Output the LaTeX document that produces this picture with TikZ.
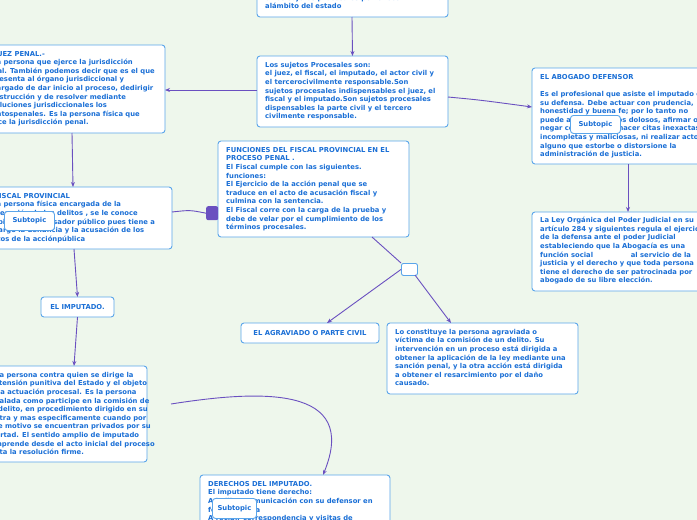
\documentclass[tikz,border=0pt]{standalone}
\usepackage{fontspec}
\setmainfont{DejaVu Sans}
\usetikzlibrary{arrows.meta}
\definecolor{bg}{HTML}{EEF7EC}
\definecolor{bc}{HTML}{5AA5EA}
\definecolor{tc}{HTML}{1A6FD6}
\definecolor{ac}{HTML}{6A50C0}
\tikzset{
 box/.style={draw=bc,fill=white,rounded corners=3pt,line width=0.9pt,anchor=north west,align=left,inner sep=0pt,outer sep=0pt},
 txt/.style={anchor=north west,align=left,inner sep=0pt,text=tc,font=\bfseries\fontsize{6.8}{8.6}\selectfont},
 sub/.style={draw=bc,fill=white,rounded corners=3pt,line width=0.9pt,text=tc,font=\bfseries\fontsize{6.8}{7}\selectfont,inner sep=0pt},
 conn/.style={draw=ac,line width=0.9pt},
 arr/.style={conn,-{Stealth[length=5pt,width=4pt]}}
}
\begin{document}
\begin{tikzpicture}[x=1pt,y=-1pt]
\useasboundingbox (0,0) rectangle (697,520);
\clip (0,0) rectangle (697,520);
\fill[bg] (0,0) rectangle (697,520);
% boxes
\node[box,minimum width=191pt,minimum height=37pt] (top) at (257,-20) {};
\node[box,minimum width=191pt,minimum height=71pt] (suj) at (257,56) {};
\node[box,minimum width=187pt,minimum height=88pt] (juez) at (-22,45) {};
\node[box,minimum width=194pt,minimum height=62pt] (fis) at (-22,187) {};
\node[box,minimum width=191pt,minimum height=96pt] (fun) at (218,141) {};
\node[box,minimum width=180pt,minimum height=96pt] (abo) at (532,68) {};
\node[box,minimum width=180pt,minimum height=79pt] (ley) at (532,212) {};
\node[box,minimum width=73pt,minimum height=20pt] (imp) at (41,297) {};
\node[box,minimum width=169pt,minimum height=96pt] (impd) at (-22,366) {};
\node[box,minimum width=138pt,minimum height=20pt] (agr) at (241,323) {};
\node[box,minimum width=191pt,minimum height=71pt] (con) at (387,323) {};
\node[box,minimum width=190pt,minimum height=60pt] (der) at (200,475) {};
\node[draw=bc,fill=white,rounded corners=2pt,line width=0.9pt,minimum width=16pt,minimum height=12pt,inner sep=0pt,anchor=north west] (hub) at (401,263) {};
\node[fill=ac,rounded corners=2pt,minimum width=12pt,minimum height=14pt,inner sep=0pt,anchor=north west] (sq) at (206,206) {};
% texts
\node[txt] at (265,-5) {otros sujetos procesales pertenecen\\alámbito del estado};
\node[txt] at (265,62) {Los sujetos Procesales son:\\el juez, el fiscal, el imputado, el actor civil y\\el tercerocivilmente responsable.Son\\sujetos procesales indispensables el juez, el\\fiscal y el imputado.Son sujetos procesales\\dispensables la parte civil y el tercero\\civilmente responsable.};
\node[txt] at (-17,51) {EL JUEZ PENAL.-\\Es la persona que ejerce la jurisdicción\\penal. También podemos decir que es el que\\representa al órgano jurisdiccional y\\encargado de dar inicio al proceso, dedirigir\\la instrucción y de resolver mediante\\resoluciones jurisdiccionales los\\asuntospenales. Es la persona física que\\ejerce la jurisdicción penal.};
\node[txt] at (-17,193) {EL FISCAL PROVINCIAL\\Es la persona física encargada de la\\persecución de los delitos , se le conoce\\también como acusador público pues tiene a\\su cargo la denuncia y la acusación de los\\delitos de la acciónpública};
\node[txt] at (226,147) {FUNCIONES DEL FISCAL PROVINCIAL EN EL\\PROCESO PENAL .\\El Fiscal cumple con las siguientes.\\funciones:\\El Ejercicio de la acción penal que se\\traduce en el acto de acusación fiscal y\\culmina con la sentencia.\\El Fiscal corre con la carga de la prueba y\\debe de velar por el cumplimiento de los\\términos procesales.};
\node[txt] at (540,74) {EL ABOGADO DEFENSOR\\[8.6pt]Es el profesional que asiste el imputado en\\su defensa. Debe actuar con prudencia,\\honestidad y buena fe; por lo tanto no\\puede aconsejar actos dolosos, afirmar o\\negar con falsedad, hacer citas inexactas,\\incompletas y maliciosas, ni realizar acto\\alguno que estorbe o distorsione la\\administración de justicia.};
\node[txt] at (540,217) {La Ley Orgánica del Poder Judicial en su\\artículo 284 y siguientes regula el ejercicio\\de la defensa ante el poder Judicial\\estableciendo que la Abogacía es una\\función social \hspace{33pt} al servicio de la\\justicia y el derecho y que toda persona\\tiene el derecho de ser patrocinada por\\abogado de su libre elección.};
\node[txt,anchor=center] at (imp.center) {EL IMPUTADO.};
\node[txt] at (-14,372) {Es la persona contra quien se dirige la\\pretensión punitiva del Estado y el objeto\\de la actuación procesal. Es la persona\\señalada como participe en la comisión de\\un delito, en procedimiento dirigido en su\\contra y mas especificamente cuando por\\este motivo se encuentran privados por su\\libertad. El sentido amplio de imputado\\comprende desde el acto inicial del proceso\\hasta la resolución firme.};
\node[txt,anchor=center] at (agr.center) {EL AGRAVIADO O PARTE CIVIL};
\node[txt] at (395,329) {Lo constituye la persona agraviada o\\víctima de la comisión de un delito. Su\\intervención en un proceso está dirigida a\\obtener la aplicación de la ley mediante una\\sanción penal, y la otra acción está dirigida\\a obtener el resarcimiento por el daño\\causado.};
\node[txt] at (208,481) {DERECHOS DEL IMPUTADO.\\El imputado tiene derecho:\\A la libre comunicación con su defensor en\\forma directa\\ A recibir correspondencia y visitas de};
% subtopics
\node[sub,minimum width=50pt,minimum height=19pt,anchor=north west] (s1) at (4,211) {Subtopic};
\node[sub,minimum width=50pt,minimum height=18pt,anchor=north west] (s2) at (570,115) {Subtopic};
\node[sub,minimum width=44pt,minimum height=20pt,anchor=north west] (s3) at (212,498) {Subtopic};
% connectors
\draw[arr] (352,17) -- (suj.north);
\draw[arr] (257,90) -- (165,90);
\draw[arr] (448,97) .. controls (480,100) .. (532,107);
\draw[arr] (72,133) -- (73,187);
\draw[conn] (172,212) .. controls (190,210) .. (sq.west);
\draw[conn] (372,237) -- (hub.north west);
\draw[arr] (hub.west) -- (327,323);
\draw[arr] (415,275) -- (451,323);
\draw[arr] (74,249) -- (imp.north);
\draw[arr] (imp.south) -- (74,366);
\draw[arr] (171,404) .. controls (260,390) and (360,385) .. (323,475);
\draw[arr] (628,164) -- (628,212);
\end{tikzpicture}
\end{document}
